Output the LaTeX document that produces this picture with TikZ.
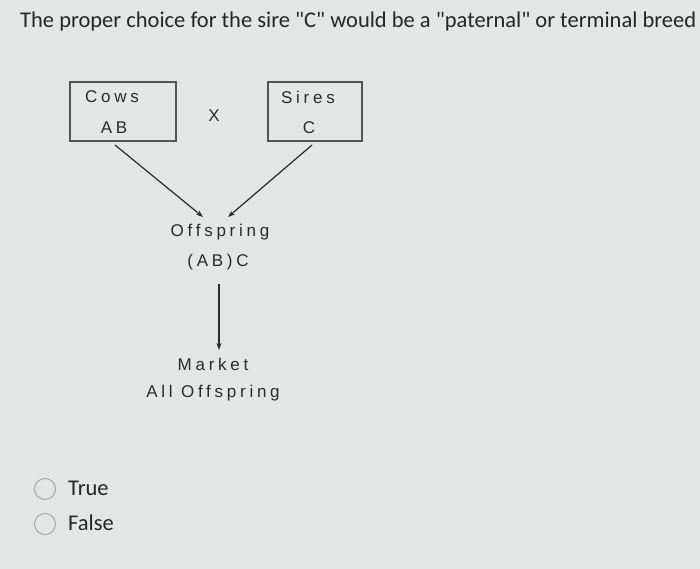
\documentclass[tikz,border=0pt]{standalone}
\usepackage{fontspec}
\setmainfont{Carlito}[Ligatures=TeXOff]
\newfontfamily\diag[LetterSpace=22]{Liberation Sans}
\usetikzlibrary{arrows.meta}
\definecolor{bg}{HTML}{E4E6E6}
\definecolor{ink}{HTML}{2A2A2A}
\definecolor{boxc}{HTML}{555555}
\begin{document}
\begin{tikzpicture}[x=1pt,y=-1pt,
  lbl/.style={font=\diag\fontsize{17}{19}\selectfont, text=ink, inner sep=0pt},
  boxn/.style={draw=boxc, line width=1.6pt, inner sep=0pt},
  arr/.style={draw=ink, line width=1.2pt, -{Stealth[length=7pt,width=5pt]}},
  radio/.style={circle, draw=gray!70, line width=1pt, minimum size=21pt, inner sep=0pt},
  ans/.style={font=\fontsize{22.5}{26}\selectfont, text=black!85, anchor=west, inner sep=0pt}]
\fill[bg] (0,0) rectangle (700,569);
\useasboundingbox (0,0) rectangle (700,569);
\node[anchor=west, inner sep=0pt, font=\fontsize{22.5}{26}\selectfont, text=black!85] (title) at (20,22) {The proper choice for the sire "C" would be a "paternal" or terminal breed};
\node[boxn, minimum width=106pt, minimum height=59pt] (cows) at (123,111.5) {};
\node[boxn, minimum width=94pt, minimum height=59pt] (sires) at (315,111.5) {};
\node[lbl] (cowsT) at (112,97) {Cows};
\node[lbl] (ab) at (114,128) {AB};
\node[lbl] (x) at (214,116) {X};
\node[lbl] (siresT) at (308,97) {Sires};
\node[lbl] (c) at (309,128) {C};
\node[lbl] (off) at (220,232) {Offspring};
\node[lbl] (abc) at (218,262) {(AB)C};
\node[lbl] (market) at (213,364) {Market};
\node[lbl] (all) at (213,393) {All Offspring};
\coordinate (a1s) at (115,145);
\coordinate (a1e) at (203,217);
\coordinate (a2s) at (312,145);
\coordinate (a2e) at (228,217);
\coordinate (a3s) at (219,284);
\coordinate (a3e) at (219,350);
\draw[arr] (a1s) -- (a1e);
\draw[arr] (a2s) -- (a2e);
\draw[arr] (a3s) -- (a3e);
\node[radio] (r1) at (45,489) {};
\node[radio] (r2) at (45,524) {};
\node[ans] (t) at (68,488) {True};
\node[ans] (f) at (68,523) {False};
\end{tikzpicture}
\end{document}
